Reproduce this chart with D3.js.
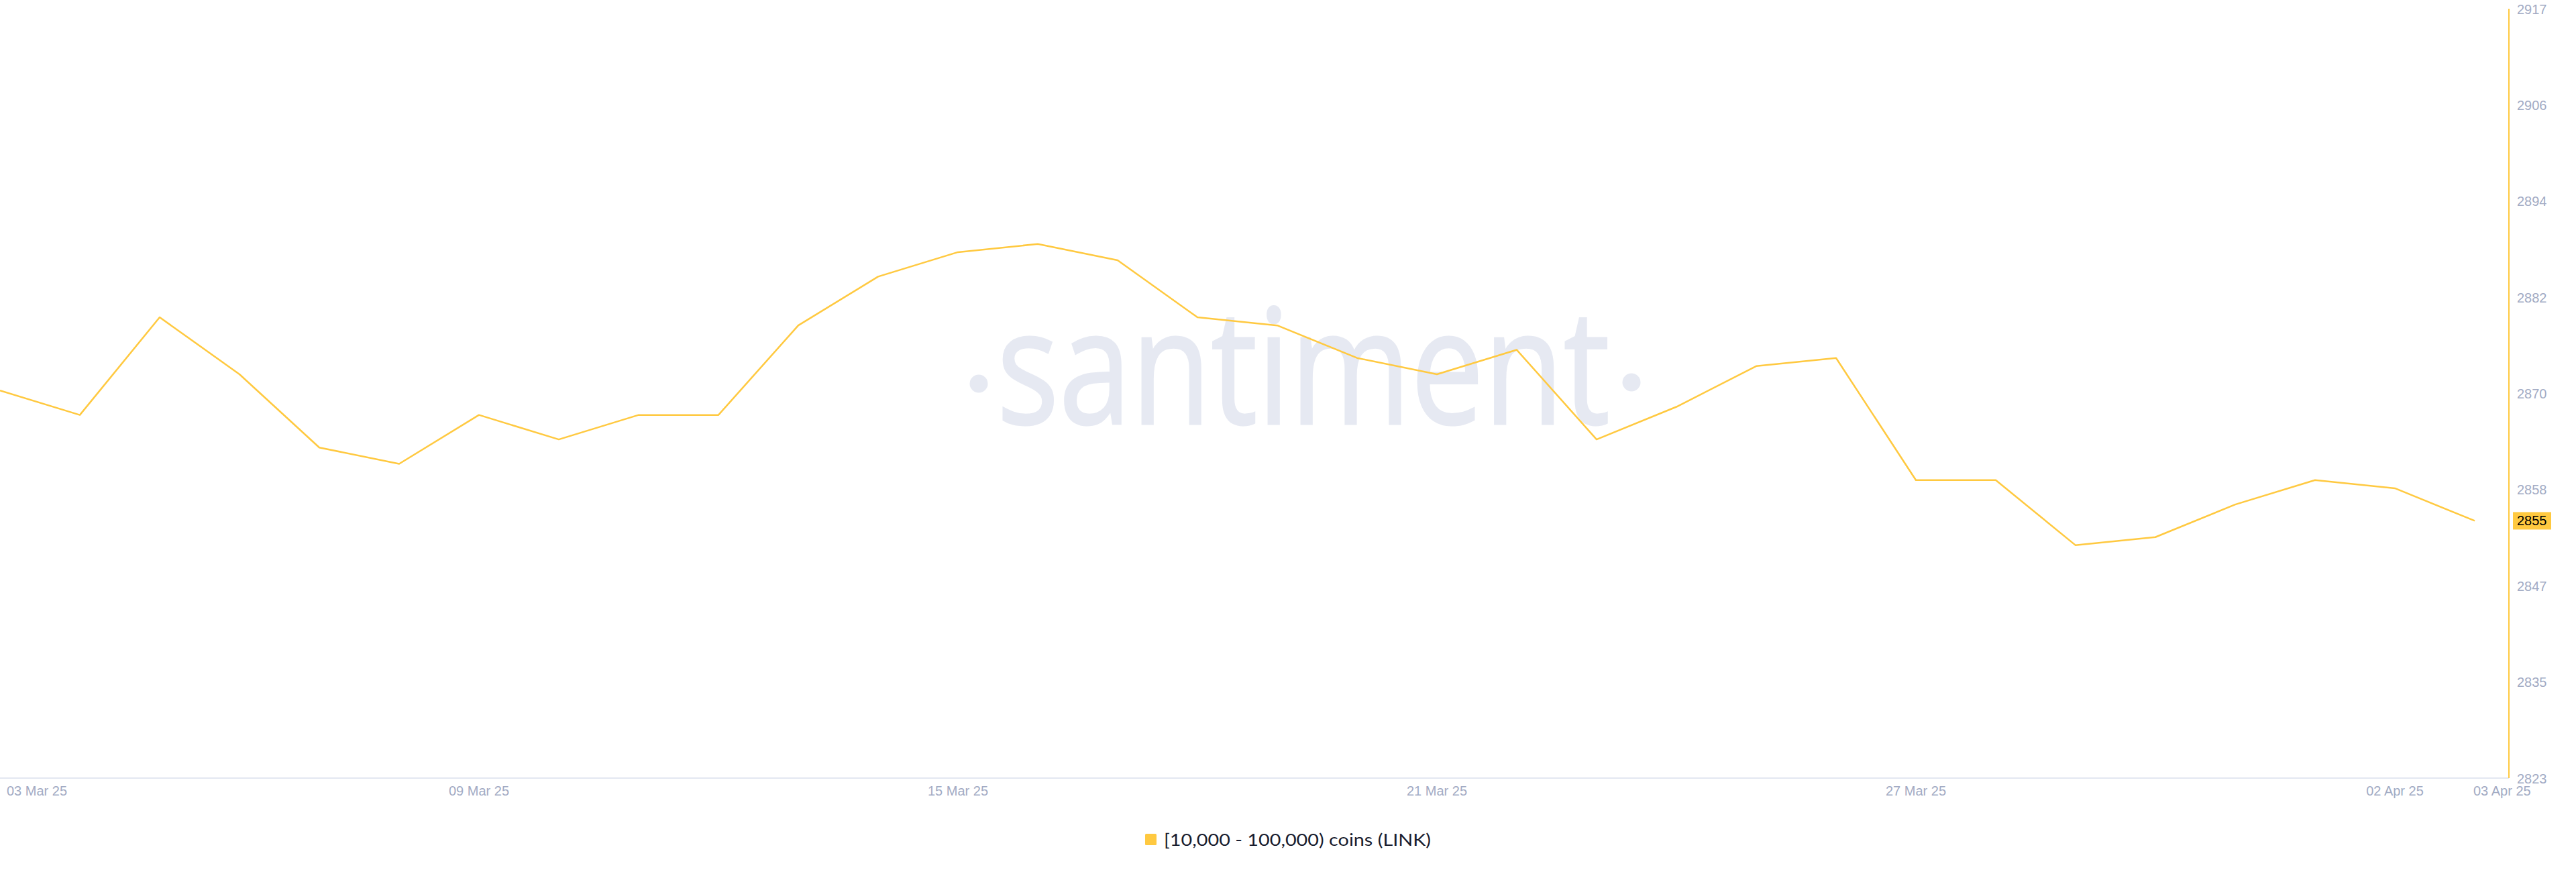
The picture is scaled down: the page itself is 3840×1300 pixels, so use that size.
<!DOCTYPE html>
<html>
<head>
<meta charset="utf-8">
<script src="https://cdn.jsdelivr.net/npm/d3@7"></script>
<style>
  html, body { margin: 0; padding: 0; background: #ffffff; }
  svg { display: block; }
</style>
</head>
<body>
<svg id="chart" width="3840" height="1300"></svg>
<script>
// ---------------- data ----------------
const dates = [
  "2025-03-03","2025-03-04","2025-03-05","2025-03-06","2025-03-07","2025-03-08","2025-03-09","2025-03-10",
  "2025-03-11","2025-03-12","2025-03-13","2025-03-14","2025-03-15","2025-03-16","2025-03-17","2025-03-18",
  "2025-03-19","2025-03-20","2025-03-21","2025-03-22","2025-03-23","2025-03-24","2025-03-25","2025-03-26",
  "2025-03-27","2025-03-28","2025-03-29","2025-03-30","2025-03-31","2025-04-01","2025-04-02","2025-04-03"
];
const holders = [
  2871, 2868, 2880, 2873, 2864, 2862, 2868, 2865,
  2868, 2868, 2879, 2885, 2888, 2889, 2887, 2880,
  2879, 2875, 2873, 2876, 2865, 2869, 2874, 2875,
  2860, 2860, 2852, 2853, 2857, 2860, 2859, 2855
];
const seriesName = "[10,000 - 100,000) coins (LINK)";
const xTickDates = ["2025-03-03","2025-03-09","2025-03-15","2025-03-21","2025-03-27","2025-04-02","2025-04-03"];
const xTickLabels = ["03 Mar 25","09 Mar 25","15 Mar 25","21 Mar 25","27 Mar 25","02 Apr 25","03 Apr 25"];
const yTickLabels = ["2823","2835","2847","2858","2870","2882","2894","2906","2917"];
const yDomain = [2823.4, 2917.9];
const watermark = "santiment";

// ---------------- layout ----------------
const parse = d3.utcParse("%Y-%m-%d");
const data = dates.map((d, i) => ({ date: parse(d), value: holders[i] }));

const plot = { left: 0, right: 3740, top: 13, bottom: 1160 };
const lineColor = "#ffc940";
const axisText = "#a2abc4";

const svg = d3.select("#chart");

const x = d3.scaleUtc()
  .domain([parse(dates[0]), parse(dates[dates.length - 1])])
  .range([0, 3689]);
const y = d3.scaleLinear()
  .domain(yDomain)
  .range([plot.bottom, plot.top]);

// ---------------- watermark ----------------
const wm = svg.append("g").attr("class", "watermark").attr("fill", "#e6e9f2");
wm.append("text")
  .attr("x", 1486)
  .attr("y", 632)
  .attr("font-family", "'Open Sans', sans-serif")
  .attr("font-size", 238)
  .attr("stroke", "#e6e9f2")
  .attr("stroke-width", 3)
  .attr("textLength", 914)
  .attr("lengthAdjust", "spacingAndGlyphs")
  .text(watermark);
wm.append("circle").attr("cx", 1459).attr("cy", 572).attr("r", 13.5);
wm.append("circle").attr("cx", 2432).attr("cy", 570).attr("r", 13.5);

// ---------------- axes ----------------
svg.append("line")
  .attr("x1", plot.left).attr("x2", plot.right)
  .attr("y1", plot.bottom).attr("y2", plot.bottom)
  .attr("stroke", "#e3e7f1").attr("stroke-width", 2);

const xAxisG = svg.append("g").attr("class", "x-axis")
  .attr("font-family", "'Liberation Sans', Arial, sans-serif")
  .attr("font-size", 20)
  .attr("fill", axisText);
xTickDates.forEach((d, i) => {
  const px = x(parse(d));
  let anchor = "middle", dx = 0;
  if (i === 0) { anchor = "start"; dx = 10; }
  if (i === xTickDates.length - 1) { anchor = "start"; dx = -2; }
  xAxisG.append("text")
    .attr("x", px + dx)
    .attr("y", 1186)
    .attr("text-anchor", anchor)
    .text(xTickLabels[i]);
});

const yStep = (yDomain[1] - yDomain[0]) / (yTickLabels.length - 1);
const yTickValues = yTickLabels.map((_, i) => yDomain[0] + i * yStep);
const yAxis = d3.axisRight(y)
  .tickValues(yTickValues)
  .tickFormat((d, i) => yTickLabels[i])
  .tickSize(0)
  .tickPadding(12);
const yAxisG = svg.append("g")
  .attr("transform", `translate(${plot.right},0)`)
  .call(yAxis);
yAxisG.select(".domain")
  .attr("stroke", lineColor)
  .attr("stroke-width", 2)
  .attr("d", `M0,${plot.top}V${plot.bottom}`);
yAxisG.selectAll(".tick text")
  .attr("font-family", "'Liberation Sans', Arial, sans-serif")
  .attr("font-size", 20)
  .attr("fill", axisText)
  .attr("dy", "0.35em");

// ---------------- line ----------------
const line = d3.line()
  .x(d => x(d.date))
  .y(d => y(d.value));
svg.append("path")
  .datum(data)
  .attr("fill", "none")
  .attr("stroke", lineColor)
  .attr("stroke-width", 2.5)
  .attr("stroke-linejoin", "round")
  .attr("d", line);

// ---------------- last value badge ----------------
const last = data[data.length - 1];
const by = y(last.value);
svg.append("rect")
  .attr("x", plot.right + 6)
  .attr("y", by - 13)
  .attr("width", 57)
  .attr("height", 26)
  .attr("fill", "#ffc940");
svg.append("text")
  .attr("x", plot.right + 12)
  .attr("y", by)
  .attr("dy", "0.35em")
  .attr("font-family", "'Liberation Sans', Arial, sans-serif")
  .attr("font-size", 20)
  .attr("fill", "#000000")
  .text(d3.format("d")(last.value));

// ---------------- legend ----------------
const lg = svg.append("g").attr("class", "legend");
lg.append("rect")
  .attr("x", 1707).attr("y", 1243)
  .attr("width", 17).attr("height", 17)
  .attr("rx", 1.5)
  .attr("fill", lineColor);
lg.append("text")
  .attr("x", 1735)
  .attr("y", 1252)
  .attr("dy", "0.35em")
  .attr("font-family", "Lato, 'Noto Sans', sans-serif")
  .attr("font-size", 25)
  .attr("fill", "#181c2e")
  .attr("textLength", 398)
  .attr("lengthAdjust", "spacingAndGlyphs")
  .text(seriesName);
</script>
</body>
</html>
